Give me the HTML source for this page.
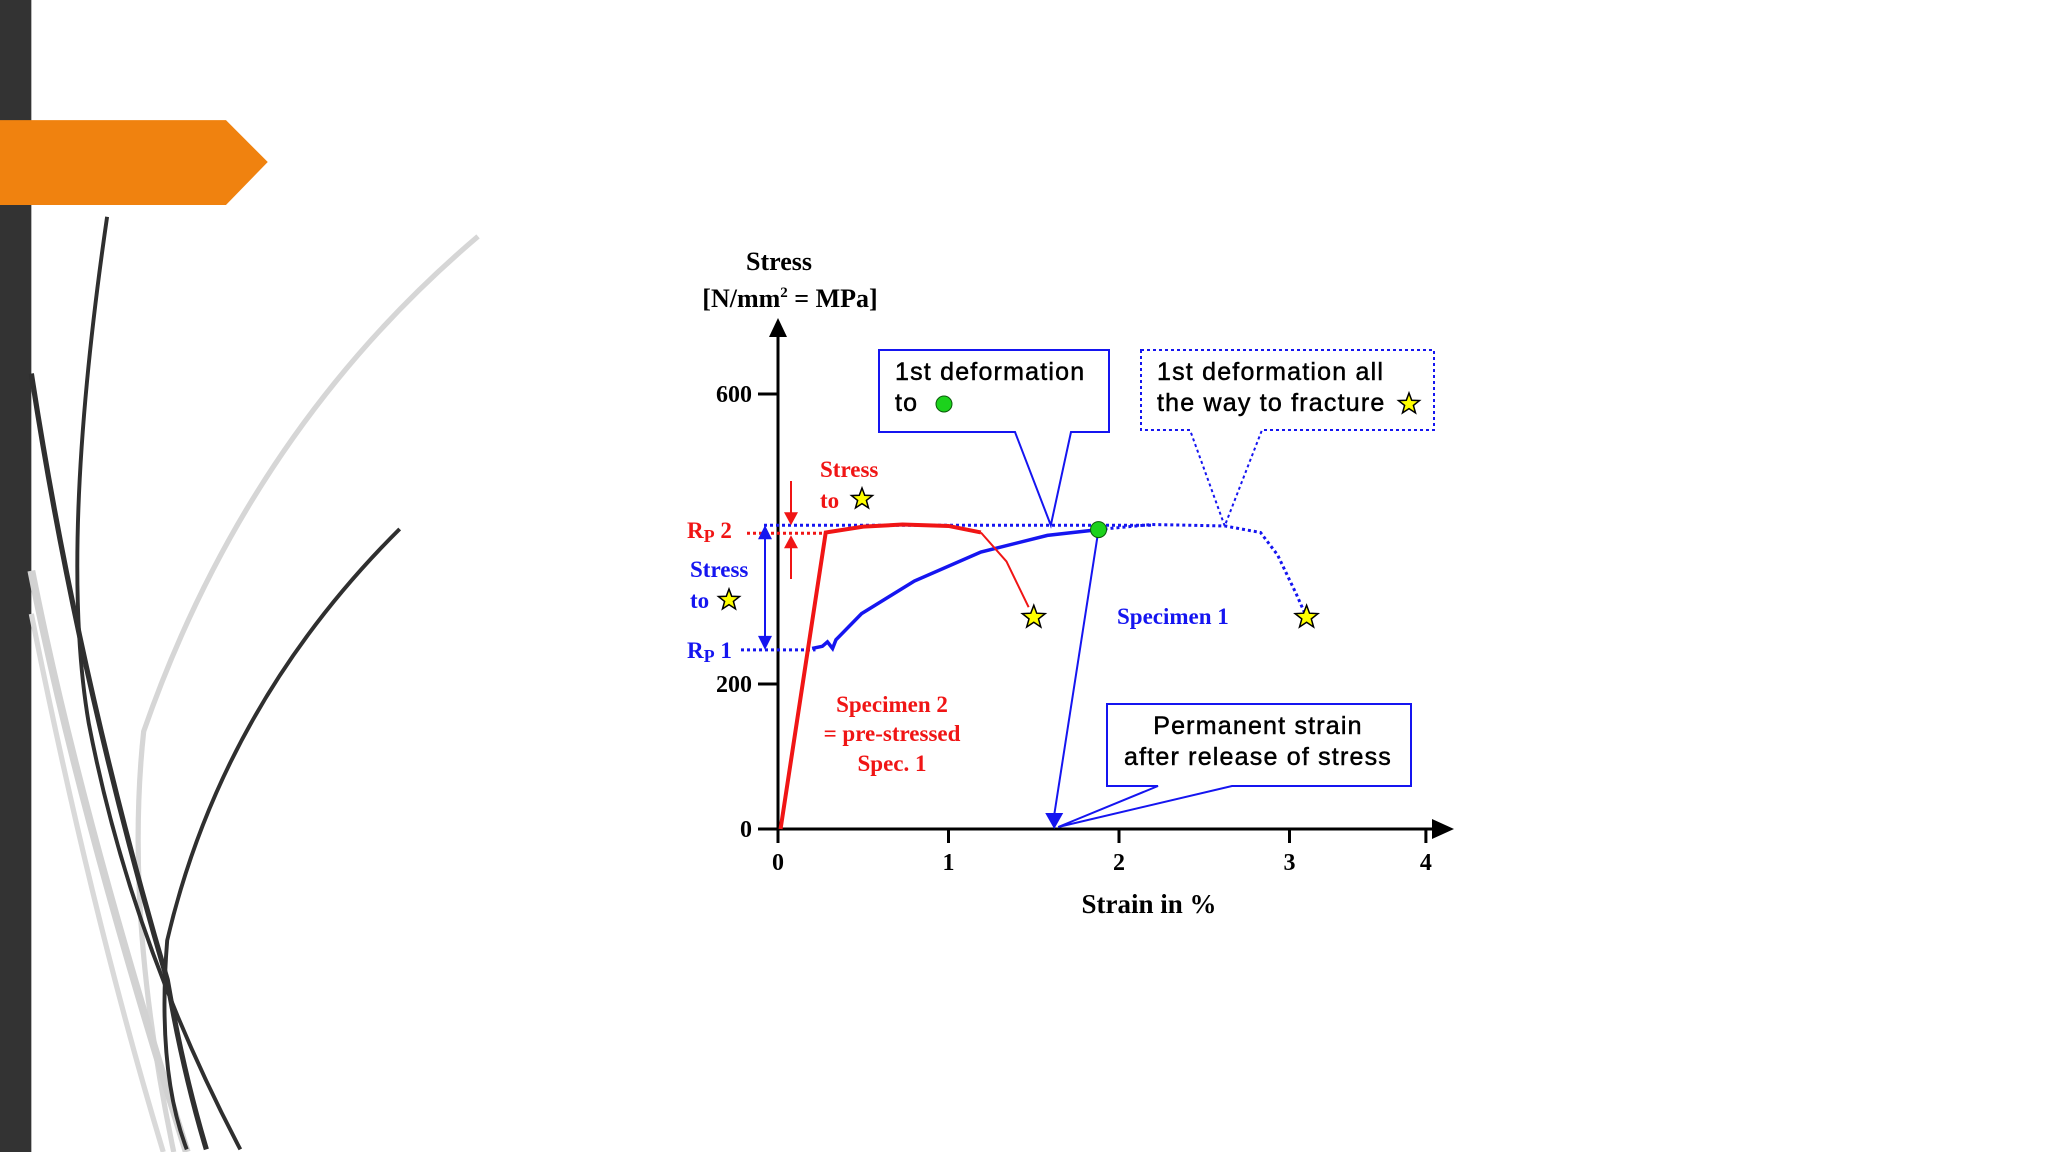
<!DOCTYPE html>
<html><head><meta charset="utf-8"><style>
html,body{margin:0;padding:0;background:#fff;width:2048px;height:1152px;overflow:hidden}
svg{position:absolute;left:0;top:0}
.serif{font-family:"Liberation Serif",serif}
.sans{font-family:"Liberation Sans",sans-serif}
</style></head><body>
<svg width="2048" height="1152" viewBox="0 0 1568 882" preserveAspectRatio="none">
  <rect x="0" y="0" width="24" height="882" fill="#333"/>
  <polygon points="0,92 173,92 205,124 173,157 0,157" fill="#F0820F"/>
  <g fill="none">
    <path d="M366,181 Q190,330 110,560 Q95,700 133,882" stroke="#d6d6d6" stroke-width="4"/>
    <path d="M24,437 Q60,620 143,882" stroke="#d2d2d2" stroke-width="6"/>
    <path d="M24,470 Q70,700 125,882" stroke="#d9d9d9" stroke-width="4"/>
    <path d="M82,166 Q45,420 68,554 Q100,720 184,880" stroke="#2f2f2f" stroke-width="3"/>
    <path d="M24,286 Q60,520 128,750 Q140,820 158,880" stroke="#2f2f2f" stroke-width="4"/>
    <path d="M306,405 Q170,540 128,720 Q120,820 143,880" stroke="#2f2f2f" stroke-width="3"/>
  </g>
</svg>
<svg id="chart" width="2048" height="1152" viewBox="0 0 2048 1152"></svg>
<script>
// ---- data ----
const xTickValues = [0, 1, 2, 3, 3.8];
const xTickLabels = ["0", "1", "2", "3", "4"];
const yTickValues = [0, 200, 600];
const yTickLabels = ["0", "200", "600"];
const spec2Strain = [0.015, 0.28, 0.5, 0.73, 1.0, 1.19, 1.34, 1.47];
const spec2Stress = [0, 409, 417, 420, 418, 409, 369, 306];
const spec1Strain = [0.2, 0.26, 0.29, 0.32, 0.34, 0.49, 0.8, 1.19, 1.58, 1.88];
const spec1Stress = [249, 252, 258, 249, 261, 297, 342, 382, 405, 413];
const spec1DottedStrain = [1.88, 2.19, 2.62, 2.83, 2.93, 3.04, 3.1];
const spec1DottedStress = [413, 420, 418, 409, 378, 324, 292];
const unloadStrain = [1.88, 1.62];
const unloadStress = [413, 0];
const rp1 = 247, rp2Blue = 419, rp2Red = 408;
const fractureStrain1 = 3.1, fractureStrain2 = 1.5, fractureStress = 292;
const greenDotStrain = 1.88, greenDotStress = 413;

// ---- axes ----
const X0 = 778, XS = 170.5, Y0 = 829, YS = 0.725;
const sx = v => X0 + v * XS;
const sy = v => Y0 - v * YS;
const NS = "http://www.w3.org/2000/svg";
const svg = document.getElementById('chart');
function mk(tag, attrs, parent, text) {
  const e = document.createElementNS(NS, tag);
  for (const k in attrs) e.setAttribute(k, attrs[k]);
  if (text !== undefined) e.textContent = text;
  (parent || svg).appendChild(e);
  return e;
}
const BLUE = "#1515f0", RED = "#f01515";
function pts(xs, ys) { return xs.map((x, i) => sx(x) + "," + sy(ys[i])).join(" "); }
function star(cx, cy, r, name) {
  let p = [];
  for (let i = 0; i < 10; i++) {
    const a = -Math.PI / 2 + i * Math.PI / 5, rr = i % 2 ? r * 0.42 : r;
    p.push((cx + rr * Math.cos(a)).toFixed(1) + "," + (cy + rr * Math.sin(a)).toFixed(1));
  }
  const s = mk('polygon', { points: p.join(" "), fill: "#ffff00", stroke: "#000", "stroke-width": 1.5 });
  
  
}

let e;
e = mk('line', { x1: X0, y1: Y0 + 6, x2: X0, y2: 332, stroke: "#000", "stroke-width": 3 });
 
e = mk('polygon', { points: `${X0 - 9},337 ${X0 + 9},337 ${X0},318`, fill: "#000" });
 
e = mk('line', { x1: X0 - 6, y1: Y0, x2: 1434, y2: Y0, stroke: "#000", "stroke-width": 3 });
 
e = mk('polygon', { points: `1432,${Y0 - 10} 1432,${Y0 + 10} 1454,${Y0}`, fill: "#000" });
 

xTickValues.forEach((v, i) => {
  const t = mk('line', { x1: sx(v), y1: Y0, x2: sx(v), y2: Y0 + 14, stroke: "#000", "stroke-width": 3 });
   
  const l = mk('text', { x: sx(v), y: Y0 + 41, "text-anchor": "middle", class: "serif", "font-size": 24, "font-weight": "bold" }, svg, xTickLabels[i]);
   
});
yTickValues.forEach((v, i) => {
  const t = mk('line', { x1: X0 - 20, y1: sy(v), x2: X0, y2: sy(v), stroke: "#000", "stroke-width": 3 });
   
  const l = mk('text', { x: X0 - 26, y: sy(v) + 8, "text-anchor": "end", class: "serif", "font-size": 24, "font-weight": "bold" }, svg, yTickLabels[i]);
   
});

e = mk('text', { x: 779, y: 270, "text-anchor": "middle", class: "serif", "font-size": 26, "font-weight": "bold" }, svg, "Stress");
 
e = mk('text', { x: 790, y: 307, "text-anchor": "middle", class: "serif", "font-size": 26, "font-weight": "bold" }, svg);
e.innerHTML = '[N/mm<tspan dy="-10" font-size="15">2</tspan><tspan dy="10"> = MPa]</tspan>';
 
e = mk('text', { x: 1149, y: 913, "text-anchor": "middle", class: "serif", "font-size": 27, "font-weight": "bold" }, svg, "Strain in %");
 

e = mk('line', { x1: 764, y1: sy(rp2Blue), x2: sx(2.19), y2: sy(rp2Blue), stroke: BLUE, "stroke-width": 3, "stroke-dasharray": "3,3" });
 
e = mk('line', { x1: 747, y1: sy(rp2Red), x2: sx(0.28), y2: sy(rp2Red), stroke: RED, "stroke-width": 3, "stroke-dasharray": "3,3" });
 
e = mk('line', { x1: 741, y1: sy(rp1), x2: sx(0.22), y2: sy(rp1), stroke: BLUE, "stroke-width": 3, "stroke-dasharray": "3,3" });
 

e = mk('polyline', { points: pts(spec1Strain, spec1Stress), fill: "none", stroke: BLUE, "stroke-width": 3.5 });
 
e = mk('polyline', { points: pts(spec1DottedStrain, spec1DottedStress), fill: "none", stroke: BLUE, "stroke-width": 3, "stroke-dasharray": "3,3" });
 
e = mk('polyline', { points: pts(spec2Strain.slice(0, 6), spec2Stress.slice(0, 6)), fill: "none", stroke: RED, "stroke-width": 4 });
 
e = mk('polyline', { points: pts(spec2Strain.slice(5), spec2Stress.slice(5)), fill: "none", stroke: RED, "stroke-width": 2 });
 
e = mk('line', { x1: sx(unloadStrain[0]), y1: sy(unloadStress[0]), x2: sx(unloadStrain[1]), y2: sy(unloadStress[1]) - 14, stroke: BLUE, "stroke-width": 2 });
 
e = mk('polygon', { points: `${sx(unloadStrain[1]) - 9},${sy(0) - 16} ${sx(unloadStrain[1]) + 9},${sy(0) - 16} ${sx(unloadStrain[1])},${sy(0)}`, fill: BLUE });
 

e = mk('circle', { cx: sx(greenDotStrain), cy: sy(greenDotStress), r: 8, fill: "#1cd21c", stroke: "#0a5a0a", "stroke-width": 1 });
 
star(sx(fractureStrain2), sy(fractureStress), 12, 'specimen-2-fracture-star');
star(sx(fractureStrain1), sy(fractureStress), 12, 'specimen-1-fracture-star');

e = mk('line', { x1: 765, y1: sy(rp2Blue) + 12, x2: 765, y2: sy(rp1) - 12, stroke: BLUE, "stroke-width": 2 });
 
mk('polygon', { points: `758,${sy(rp2Blue) + 14} 772,${sy(rp2Blue) + 14} 765,${sy(rp2Blue)}`, fill: BLUE });
mk('polygon', { points: `758,${sy(rp1) - 14} 772,${sy(rp1) - 14} 765,${sy(rp1)}`, fill: BLUE });
e = mk('line', { x1: 791, y1: 481, x2: 791, y2: sy(rp2Blue) - 10, stroke: RED, "stroke-width": 2 });
 
mk('polygon', { points: `784,${sy(rp2Blue) - 13} 798,${sy(rp2Blue) - 13} 791,${sy(rp2Blue)}`, fill: RED });
e = mk('line', { x1: 791, y1: 579, x2: 791, y2: sy(rp2Red) + 10, stroke: RED, "stroke-width": 2 });
 
mk('polygon', { points: `784,${sy(rp2Red) + 15} 798,${sy(rp2Red) + 15} 791,${sy(rp2Red) + 2}`, fill: RED });

function txt(x, y, s, color, name, size, anchor) {
  const t = mk('text', { x, y, fill: color, class: "serif", "font-size": size || 23, "font-weight": "bold", "text-anchor": anchor || "start" }, svg, s);
   
  return t;
}
txt(820, 477, "Stress", RED, 'red-stress-label');
txt(820, 508, "to", RED, 'red-to-label');
star(862, 499, 11, 'red-label-star');
e = txt(687, 538, "", RED, 'rp2-label'); e.innerHTML = 'R<tspan font-size="18" dy="4">P</tspan><tspan dy="-4"> 2</tspan>';
e = txt(687, 658, "", BLUE, 'rp1-label'); e.innerHTML = 'R<tspan font-size="18" dy="4">P</tspan><tspan dy="-4"> 1</tspan>';
txt(690, 577, "Stress", BLUE, 'blue-stress-label');
txt(690, 608, "to", BLUE, 'blue-to-label');
star(729, 600, 11, 'blue-label-star');
txt(1117, 624, "Specimen 1", BLUE, 'specimen-1-label');
txt(892, 712, "Specimen 2", RED, 'specimen-2-label', 23, "middle");
txt(892, 741, "= pre-stressed", RED, 'specimen-2-label-line2', 23, "middle");
txt(892, 771, "Spec. 1", RED, 'specimen-2-label-line3', 23, "middle");

function callout(x1, y1, x2, y2, b1, b2, tx, ty, dotted, name) {
  const d = `M${x1},${y1} H${x2} V${y2} H${b2} L${tx},${ty} L${b1},${y2} H${x1} Z`;
  const p = mk('path', { d, fill: "#fff", stroke: BLUE, "stroke-width": 2, "stroke-dasharray": dotted ? "3,3" : "none" });
   
}
callout(879, 350, 1109, 432, 1015, 1071, sx(1.6), sy(rp2Blue), false, 'callout-first-deformation');
callout(1141, 350, 1434, 430, 1190, 1262, sx(2.62), sy(418), true, 'callout-fracture');
(function () {
  const tx = sx(unloadStrain[1]) + 4, ty = sy(0) - 2;
  const d = `M1107,704 H1411 V786 H1232 L${tx},${ty} L1158,786 H1107 Z`;
  const p = mk('path', { d, fill: "#fff", stroke: BLUE, "stroke-width": 2 });
   
})();
function stxt(x, y, s, name, anchor) {
  const t = mk('text', { x, y, class: "sans", "font-size": 25, "letter-spacing": 1.2, "stroke": "#000", "stroke-width": 0.5, fill: "#000", "text-anchor": anchor || "start" }, svg, s);
   
}
stxt(895, 380, "1st deformation", 'callout-1-line1');
stxt(895, 411, "to", 'callout-1-line2');
e = mk('circle', { cx: 944, cy: 404, r: 8, fill: "#1cd21c", stroke: "#0a5a0a", "stroke-width": 1 });
 
stxt(1157, 380, "1st deformation all", 'callout-2-line1');
stxt(1157, 411, "the way to fracture", 'callout-2-line2');
star(1409, 404, 11, 'callout-star');
stxt(1258, 734, "Permanent strain", 'callout-3-line1', "middle");
stxt(1258, 765, "after release of stress", 'callout-3-line2', "middle");
</script>
</body></html>
